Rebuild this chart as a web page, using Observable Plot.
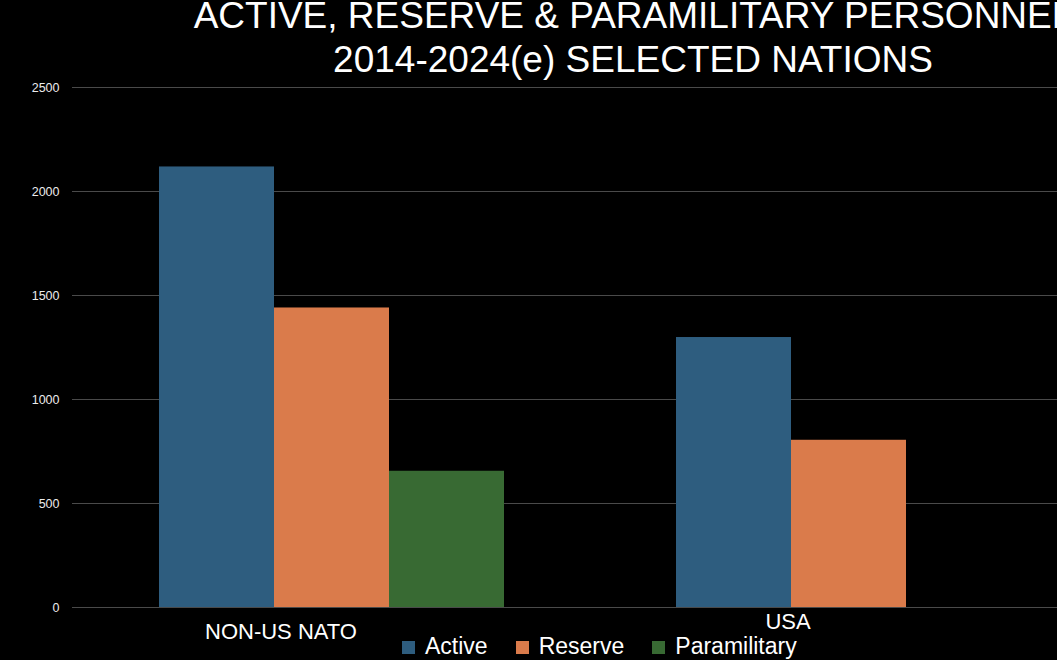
<!DOCTYPE html>
<html>
<head>
<meta charset="utf-8">
<script src="https://cdn.jsdelivr.net/npm/d3@7"></script>
<script src="https://cdn.jsdelivr.net/npm/@observablehq/plot@0.6"></script>
<style>
  html, body { margin: 0; padding: 0; background: #000; }
  body { width: 1057px; height: 660px; overflow: hidden; position: relative; font-family: "Liberation Sans", Arial, sans-serif; }
  #grid, #chart { position: absolute; left: 0; top: 0; width: 1107px; height: 660px; }
  #grid svg, #chart svg { max-width: none !important; width: 1107px !important; height: 660px !important; }
  #title { position: absolute; left: 0; top: -6px; width: 1266px; text-align: center; color: #fff; font-size: 37px; line-height: 44px; white-space: nowrap; }
  #legend { position: absolute; left: 402px; top: 632px; display: flex; align-items: center; color: #fff; font-size: 23px; line-height: 28px; }
  #legend .item { display: flex; align-items: center; margin-right: 28px; }
  #legend .sw { width: 13px; height: 13px; margin-right: 10px; margin-top: 3px; }
</style>
</head>
<body>
<div id="grid"></div>
<div id="chart"></div>
<div id="title">ACTIVE, RESERVE &amp; PARAMILITARY PERSONNEL<br>2014-2024(e) SELECTED NATIONS</div>
<div id="legend"></div>
<script>
const groups = ["NON-US NATO", "USA"];
const series = ["Active", "Reserve", "Paramilitary"];
const nonUsNatoValues = [2118, 1440, 655];
const usaValues = [1298, 804, 0];
const yTicks = [0, 500, 1000, 1500, 2000, 2500];
const seriesColors = ["#2E5D7F", "#DA7B4B", "#386A33"];

const valuesByGroup = [nonUsNatoValues, usaValues];
const table = [];
groups.forEach((g, gi) => series.forEach((s, si) => table.push({group: g, series: s, value: valuesByGroup[gi][si]})));

const frame = {
  width: 1107,
  height: 660,
  marginLeft: 72,
  marginRight: 0,
  marginTop: 87,
  marginBottom: 53
};

// Background layer: gridlines and y tick labels spanning the whole frame
const grid = Plot.plot({
  ...frame,
  style: {background: "#000", color: "#fff", fontFamily: "Liberation Sans, Arial, sans-serif", maxWidth: "none"},
  y: {domain: [0, 2500], axis: null, label: null},
  marks: [
    Plot.ruleY(yTicks, {y: d => d, stroke: "#4a4a4a", strokeWidth: 1}),
    Plot.text(yTicks, {y: d => d, text: d => String(d), frameAnchor: "left", textAnchor: "end", dx: -13, fontSize: 12.5, fill: "#ececec"})
  ]
});
document.getElementById("grid").appendChild(grid);

// Foreground layer: grouped bars and category labels
const chart = Plot.plot({
  ...frame,
  style: {background: "transparent", color: "#fff", fontFamily: "Liberation Sans, Arial, sans-serif", maxWidth: "none"},
  fx: {domain: groups, paddingInner: 1/3, paddingOuter: 1/6, axis: null, label: null},
  x: {domain: series, padding: 0, axis: null, label: null},
  y: {domain: [0, 2500], axis: null, label: null},
  color: {domain: series, range: seriesColors},
  marks: [
    Plot.barY(table, {fx: "group", x: "series", y: "value", fill: "series"}),
    Plot.text([groups[0]], {fx: d => d, text: d => d, frameAnchor: "bottom", dy: 31, dx: -51, fontSize: 22, fill: "#fff"}),
    Plot.text([groups[1]], {fx: d => d, text: d => d, frameAnchor: "bottom", dy: 21, dx: -61, fontSize: 22, fill: "#fff"})
  ]
});
document.getElementById("chart").appendChild(chart);

const legend = document.getElementById("legend");
series.forEach((s, i) => {
  const item = document.createElement("div");
  item.className = "item";
  const sw = document.createElement("span");
  sw.className = "sw";
  sw.style.background = seriesColors[i];
  const label = document.createElement("span");
  label.textContent = s;
  item.appendChild(sw);
  item.appendChild(label);
  legend.appendChild(item);
});
</script>
</body>
</html>
